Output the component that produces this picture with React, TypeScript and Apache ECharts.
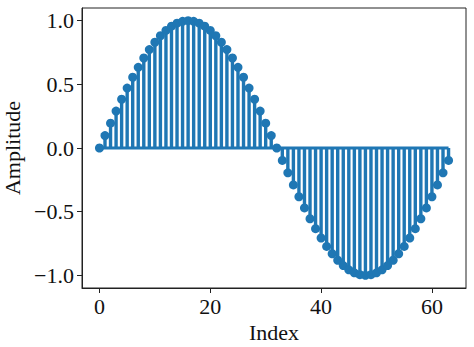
import React, { useEffect, useRef } from "react";
import * as echarts from "echarts";

const indices: number[] = Array.from({ length: 64 }, (_, i) => i);
const amplitudes: number[] = [
  0.0, 0.098, 0.195, 0.29, 0.383, 0.471, 0.556, 0.634, 0.707, 0.773, 0.831, 0.882, 0.924, 0.957, 0.981, 0.995,
  1.0, 0.995, 0.981, 0.957, 0.924, 0.882, 0.831, 0.773, 0.707, 0.634, 0.556, 0.471, 0.383, 0.29, 0.195, 0.098,
  0.0, -0.098, -0.195, -0.29, -0.383, -0.471, -0.556, -0.634, -0.707, -0.773, -0.831, -0.882, -0.924, -0.957, -0.981, -0.995,
  -1.0, -0.995, -0.981, -0.957, -0.924, -0.882, -0.831, -0.773, -0.707, -0.634, -0.556, -0.471, -0.383, -0.29, -0.195, -0.098,
];
const xTicks: number[] = [0, 20, 40, 60];
const yTicks: number[] = [-1.0, -0.5, 0.0, 0.5, 1.0];

const COLOR = "#1f77b4";
const FONT = "Liberation Serif";

export default function App() {
  const ref = useRef<HTMLDivElement>(null);
  useEffect(() => {
    if (!ref.current) return;
    const chart = echarts.init(ref.current, undefined, { renderer: "svg" });
    const points = indices.map((x, i) => [x, amplitudes[i]]);
    chart.setOption({
      animation: false,
      backgroundColor: "#ffffff",
      grid: {
        left: 82,
        right: 8,
        top: 8,
        bottom: 59,
        containLabel: false,
        outerBoundsMode: "none",
        show: true,
        borderColor: "#222",
        borderWidth: 1,
        backgroundColor: "transparent",
      },
      xAxis: {
        type: "value",
        min: -3.15,
        max: 66.15,
        name: "Index",
        nameLocation: "middle",
        nameGap: 31,
        nameTextStyle: { fontFamily: FONT, fontSize: 22, color: "#111" },
        axisLine: { show: true, onZero: false, lineStyle: { color: "#222", width: 1 } },
        axisTick: { show: true, inside: false, length: 5, lineStyle: { color: "#222" }, customValues: xTicks },
        axisLabel: { fontFamily: FONT, fontSize: 22, color: "#111", margin: 7, customValues: xTicks },
        splitLine: { show: false },
      },
      yAxis: {
        type: "value",
        min: -1.1,
        max: 1.1,
        name: "Amplitude",
        nameLocation: "middle",
        nameGap: 55,
        nameTextStyle: { fontFamily: FONT, fontSize: 22, color: "#111" },
        axisLine: { show: true, onZero: false, lineStyle: { color: "#222", width: 1 } },
        axisTick: { show: true, inside: false, length: 5, lineStyle: { color: "#222" }, customValues: yTicks },
        axisLabel: {
          fontFamily: FONT,
          fontSize: 22,
          color: "#111",
          margin: 8,
          customValues: yTicks,
          formatter: (v: number) => v.toFixed(1).replace("-", "\u2212"),
        },
        splitLine: { show: false },
      },
      series: [
        {
          type: "custom",
          data: points,
          z: 2,
          renderItem: (params: any, api: any) => {
            const x = api.value(0);
            const y = api.value(1);
            const p0 = api.coord([x, 0]);
            const p1 = api.coord([x, y]);
            return {
              type: "line",
              shape: { x1: p0[0], y1: p0[1], x2: p1[0], y2: p1[1] },
              style: { stroke: COLOR, lineWidth: 3.4 },
            };
          },
        },
        {
          type: "line",
          data: [
            [indices[0], 0],
            [indices[indices.length - 1], 0],
          ],
          symbol: "none",
          lineStyle: { color: COLOR, width: 3 },
          z: 3,
        },
        {
          type: "scatter",
          data: points,
          symbol: "circle",
          symbolSize: 9,
          itemStyle: { color: COLOR, opacity: 1 },
          z: 4,
        },
      ],
    });
    return () => chart.dispose();
  }, []);
  return <div ref={ref} style={{ position: "absolute", left: 0, top: 0, width: 474, height: 347 }} />;
}
